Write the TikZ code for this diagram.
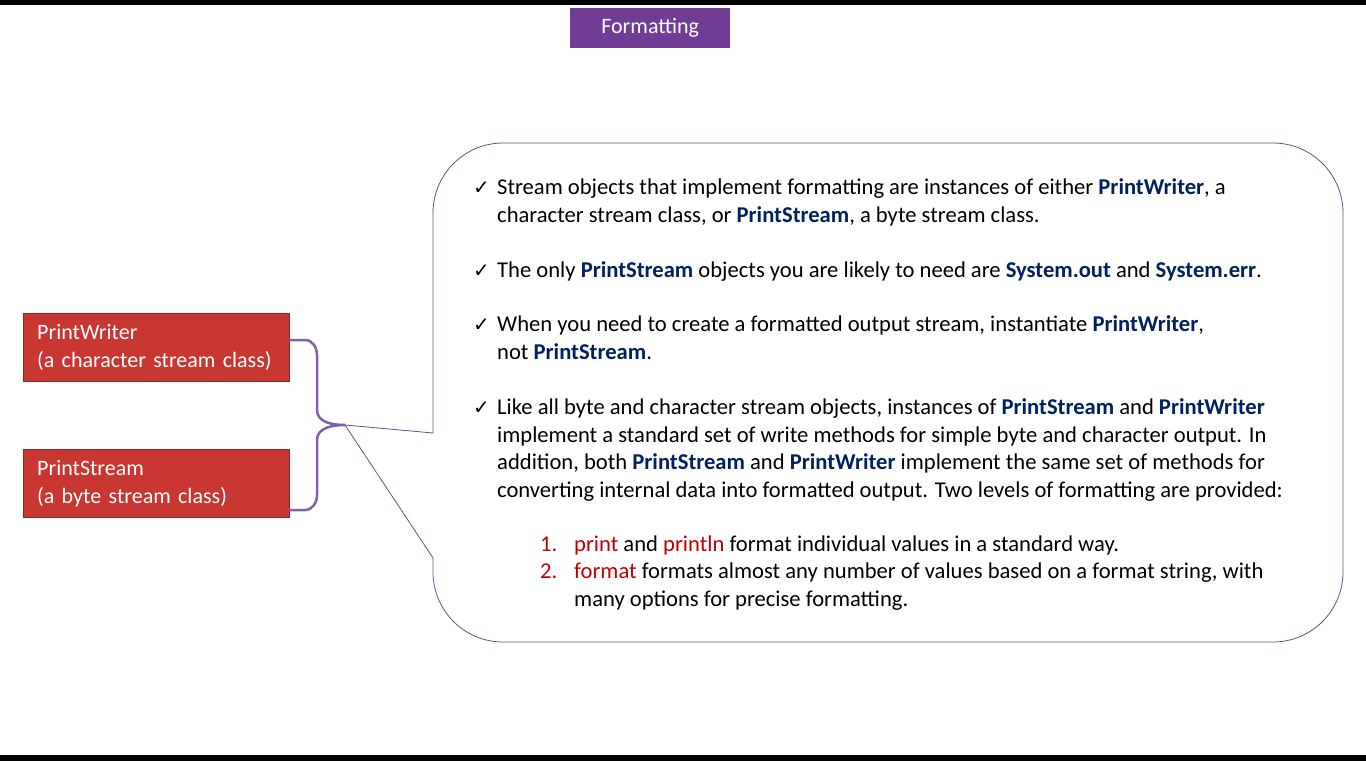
\documentclass[tikz,border=0pt]{standalone}
\usepackage{fontspec}
\setmainfont{Carlito}
\newfontfamily\symfont{DejaVu Sans}
\usetikzlibrary{positioning}
\definecolor{kwblue}{RGB}{0,32,96}
\definecolor{numred}{RGB}{192,0,0}
\definecolor{boxred}{RGB}{200,55,50}
\definecolor{titlepurple}{RGB}{112,60,150}
\definecolor{bracepurple}{RGB}{128,96,168}
\newcommand{\kw}[1]{\textbf{\textcolor{kwblue}{#1}}}
\newcommand{\rd}[1]{\textcolor{numred}{#1}}
\tikzset{
  body/.style={anchor=base west, inner sep=0pt, font=\fontsize{22.6}{26}\selectfont},
  tick/.style={anchor=base west, inner sep=0pt, font=\symfont\bfseries\fontsize{20}{22}\selectfont},
  classbox/.style={draw=boxred!70!black, fill=boxred, text=white, minimum width=266pt, minimum height=68pt,
    text width=246pt, align=left, inner xsep=10pt, inner ysep=8pt, font=\fontsize{22}{28}\selectfont, anchor=north west}
}
\begin{document}
\begin{tikzpicture}[x=1pt,y=-1pt]
\useasboundingbox (0,0) rectangle (1366,761);
\fill (0,0) rectangle (1366,5);
\fill (0,755) rectangle (1366,761);
% title
\node[fill=titlepurple, text=white, minimum width=160pt, minimum height=40pt, anchor=north west,
  font=\fontsize{22}{24}\selectfont] (title) at (570,8) {Formatting};
% class boxes
\node[classbox] (writer) at (23,313) {\hspace*{4pt}PrintWriter\\\hspace*{4pt}(a character stream class)};
\node[classbox] (stream) at (23,449) {\hspace*{4pt}PrintStream\\\hspace*{4pt}(a byte stream class)};
% brace
\coordinate (tip) at (345,425);
\draw[bracepurple, line width=2.5pt] (writer.east |- 0,340) -- (305,340) to[out=0,in=90] (317,355) -- (317,410)
  to[out=-90,in=180] (tip) to[out=180,in=90] (317,440) -- (317,495) to[out=-90,in=0] (305,510) -- (stream.east |- 0,510);
% callout
\draw[bracepurple!80!black, line width=0.8pt] (433,433) [rounded corners=70pt] -- (433,143) -- (1343,143)
  -- (1343,642) -- (433,642) [sharp corners] -- (433,558) -- (tip) -- cycle;
% text
\foreach \y in {194,277,331,414} \node[tick] at (473,\y) {✓};
\node[body] (l1) at (497,194) {Stream objects that implement formatting are instances of either \kw{PrintWriter}, a};
\node[body] (l2) at (497,222) {character stream class, or \kw{PrintStream}, a byte stream class.};
\node[body] (l3) at (497,277) {The only \kw{PrintStream} objects you are likely to need are \kw{System.out} and \kw{System.err}.};
\node[body] (l4) at (497,331) {When you need to create a formatted output stream, instantiate \kw{PrintWriter},};
\node[body] (l5) at (497,359) {not \kw{PrintStream}.};
\node[body] (l6) at (497,414) {Like all byte and character stream objects, instances of \kw{PrintStream} and \kw{PrintWriter}};
\node[body] (l7) at (497,442) {implement a standard set of write methods for simple byte and character output. In};
\node[body] (l8) at (497,469) {addition, both \kw{PrintStream} and \kw{PrintWriter} implement the same set of methods for};
\node[body] (l9) at (497,497) {converting internal data into formatted output. Two levels of formatting are provided:};
\node[body] (n1) at (540,551) {\rd{1.}};
\node[body] (n2) at (540,578) {\rd{2.}};
\node[body] (l10) at (574,551) {\rd{print} and \rd{println} format individual values in a standard way.};
\node[body] (l11) at (574,578) {\rd{format} formats almost any number of values based on a format string, with};
\node[body] (l12) at (574,606) {many options for precise formatting.};
\end{tikzpicture}
\end{document}
